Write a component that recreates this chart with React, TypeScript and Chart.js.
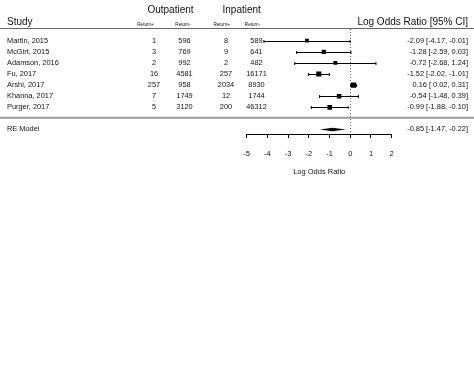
import { useEffect, useRef } from 'react';
import { Chart, registerables } from 'chart.js';

Chart.register(...registerables);

const studies = ['Martin, 2015', 'McGirt, 2015', 'Adamson, 2016', 'Fu, 2017', 'Arshi, 2017', 'Khanna, 2017', 'Purger, 2017'];
const outReturnPos = [1, 3, 2, 16, 257, 7, 5];
const outReturnNeg = [596, 769, 992, 4581, 958, 1749, 3120];
const inReturnPos = [8, 9, 2, 257, 2034, 12, 200];
const inReturnNeg = [589, 641, 482, 16171, 8930, 1744, 46312];
const logOR = [-2.09, -1.28, -0.72, -1.52, 0.16, -0.54, -0.99];
const ciLow = [-4.17, -2.59, -2.68, -2.02, 0.02, -1.48, -1.88];
const ciHigh = [-0.01, 0.03, 1.24, -1.01, 0.31, 0.39, -0.1];
const weights = [7, 12, 8, 20, 22, 15, 16];
const rows = [7, 6, 5, 4, 3, 2, 1];
const reLabel = 'RE Model';
const reRow = -1;
const reEst = -0.85;
const reLow = -1.47;
const reHigh = -0.22;
const xTickMin = -5;
const xTickMax = 2;

const fmt = (v: number) => (v < 0 ? '-' : '') + Math.abs(v).toFixed(2);
const fmtCI = (e: number, l: number, h: number) => {
  const lo = l < 0 ? fmt(l) : ' ' + fmt(l);
  return `${fmt(e)} [${lo}, ${fmt(h)}]`;
};

export default function App() {
  const ref = useRef<HTMLCanvasElement>(null);
  useEffect(() => {
    const FONT = '"Liberation Sans", Arial, Helvetica, sans-serif';
    const TXT = '#111';
    const minW = Math.min(...weights);
    const maxW = Math.max(...weights);
    const radii = weights.map((w) => (3.8 + 1.4 * (w - minW) / (maxW - minW)) / Math.SQRT2);

    const forest = {
      id: 'forest',
      beforeDatasetsDraw(chart: any) {
        const { ctx, scales } = chart;
        const x = scales.x;
        const y = scales.y;
        const W = chart.width;
        ctx.save();
        ctx.strokeStyle = '#666';
        ctx.lineWidth = 1;
        ctx.beginPath();
        ctx.moveTo(0, 28.5);
        ctx.lineTo(W, 28.5);
        ctx.stroke();
        ctx.strokeStyle = '#666';
        ctx.setLineDash([1, 2]);
        const x0 = Math.round(x.getPixelForValue(0)) + 0.5;
        ctx.beginPath();
        ctx.moveTo(x0, 29);
        ctx.lineTo(x0, chart.chartArea.bottom);
        ctx.stroke();
        ctx.setLineDash([]);
        ctx.strokeStyle = '#000';
        ctx.lineWidth = 1;
        rows.forEach((r, i) => {
          const py = Math.round(y.getPixelForValue(r)) + 0.5;
          const a = x.getPixelForValue(ciLow[i]);
          const b = x.getPixelForValue(ciHigh[i]);
          ctx.beginPath();
          ctx.moveTo(a, py);
          ctx.lineTo(b, py);
          ctx.moveTo(a, py - 1.5);
          ctx.lineTo(a, py + 1.5);
          ctx.moveTo(b, py - 1.5);
          ctx.lineTo(b, py + 1.5);
          ctx.stroke();
        });
        ctx.restore();
      },
      afterDatasetsDraw(chart: any) {
        const { ctx, scales } = chart;
        const x = scales.x;
        const y = scales.y;
        const W = chart.width;
        ctx.save();
        ctx.fillStyle = TXT;
        ctx.textBaseline = 'alphabetic';
        ctx.font = `10px ${FONT}`;
        ctx.textAlign = 'center';
        ctx.fillText('Outpatient', 170.5, 13.3);
        ctx.fillText('Inpatient', 241.7, 13.3);
        ctx.textAlign = 'left';
        ctx.fillText('Study', 7, 24.5);
        ctx.textAlign = 'right';
        ctx.fillText('Log Odds Ratio [95% CI]', 468, 25);
        ctx.font = `4.6px ${FONT}`;
        ctx.textAlign = 'center';
        ctx.fillText('Return+', 145.5, 26);
        ctx.fillText('Return-', 183, 26);
        ctx.fillText('Return+', 221.7, 26);
        ctx.fillText('Return-', 252.5, 26);
        ctx.font = `7.4px ${FONT}`;
        ctx.textBaseline = 'middle';
        rows.forEach((r, i) => {
          const py = y.getPixelForValue(r);
          ctx.textAlign = 'left';
          ctx.fillText(studies[i], 7, py);
          ctx.textAlign = 'center';
          ctx.fillText(String(outReturnPos[i]), 154, py);
          ctx.fillText(String(outReturnNeg[i]), 184.5, py);
          ctx.fillText(String(inReturnPos[i]), 226, py);
          ctx.fillText(String(inReturnNeg[i]), 256.5, py);
          ctx.textAlign = 'right';
          ctx.fillText(fmtCI(logOR[i], ciLow[i], ciHigh[i]), 468, py);
        });
        const sepY = y.getPixelForValue(0) - 0.7;
        ctx.strokeStyle = '#9a9a9a';
        ctx.lineWidth = 2;
        ctx.beginPath();
        ctx.moveTo(0, sepY);
        ctx.lineTo(W, sepY);
        ctx.stroke();
        const ry = y.getPixelForValue(reRow);
        ctx.textAlign = 'left';
        ctx.fillText(reLabel, 7, ry - 0.8);
        ctx.textAlign = 'right';
        ctx.fillText(fmtCI(reEst, reLow, reHigh), 468, ry - 0.3);
        ctx.fillStyle = '#000';
        ctx.beginPath();
        ctx.moveTo(x.getPixelForValue(reLow), ry);
        ctx.lineTo(x.getPixelForValue(reEst), ry - 1.8);
        ctx.lineTo(x.getPixelForValue(reHigh), ry);
        ctx.lineTo(x.getPixelForValue(reEst), ry + 1.8);
        ctx.closePath();
        ctx.fill();
        ctx.restore();
      },
    };

    const chart = new Chart(ref.current as HTMLCanvasElement, {
      type: 'scatter',
      data: {
        datasets: [
          {
            data: logOR.map((v, i) => ({ x: v, y: rows[i] })),
            pointStyle: 'rect',
            pointRadius: radii,
            backgroundColor: '#000',
            borderColor: '#000',
            borderWidth: 0,
          },
        ],
      },
      options: {
        animation: false,
        responsive: true,
        maintainAspectRatio: false,
        events: [],
        layout: { padding: { left: 246.7, right: 82.3, top: 0, bottom: 197 } },
        plugins: { legend: { display: false }, tooltip: { enabled: false } },
        scales: {
          x: {
            type: 'linear',
            min: xTickMin,
            max: xTickMax,
            grid: { drawOnChartArea: false, drawTicks: true, tickLength: 4, color: '#000', lineWidth: 1 },
            border: { display: true, color: '#000', width: 1 },
            ticks: { stepSize: 1, color: TXT, font: { size: 7.5, family: FONT }, padding: 11.5, maxRotation: 0 },
            title: { display: true, text: 'Log Odds Ratio', color: TXT, font: { size: 7.5, family: FONT }, padding: { top: -3, bottom: 0 } },
          },
          y: { type: 'linear', display: false, min: -1.4, max: 10.3 },
        },
      },
      plugins: [forest],
    });
    return () => chart.destroy();
  }, []);
  return (
    <div style={{ position: 'absolute', left: 0, top: 0, width: 474, height: 373 }}>
      <canvas ref={ref} />
    </div>
  );
}
